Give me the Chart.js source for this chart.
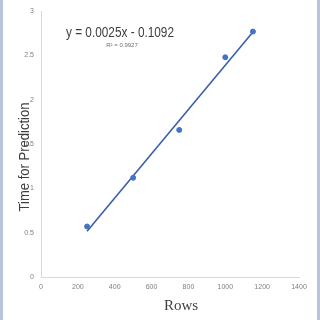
<!DOCTYPE html>
<html>
<head>
<meta charset="utf-8">
<script src="https://cdn.jsdelivr.net/npm/chart.js@4"></script>
<style>
  html, body { margin: 0; padding: 0; background: #fff; }
  #wrap { position: relative; width: 320px; height: 320px; }
  #chart { position: absolute; left: 0; top: 0; }
  .edge { position: absolute; top: 0; width: 3px; height: 320px; background: #b9c3d9; }
</style>
</head>
<body>
<div id="wrap">
  <canvas id="chart" width="320" height="320"></canvas>
  <div class="edge" style="left:0"></div>
  <div class="edge" style="right:0"></div>
</div>
<script>
// measured rows vs time
const rows = [250, 500, 750, 1000, 1150];
const times = [0.57, 1.12, 1.66, 2.48, 2.77];

// linear trendline end points
const trendX = [250, 1150];
const trendY = [0.516, 2.766];

const xTicks = [0, 200, 400, 600, 800, 1000, 1200, 1400];
const yTicks = [0, 0.5, 1, 1.5, 2, 2.5, 3];

const equation = "y = 0.0025x - 0.1092";
const rSquared = "R\u00b2 = 0.9927";
const xTitle = "Rows";
const yTitle = "Time for Prediction";

const chartCanvas = document.getElementById("chart");

// text labels drawn on top (equation, R², axis titles)
const labelsPlugin = {
    id: "labels",
    afterDraw(chart) {
        const ctx = chart.ctx;
        ctx.save();
        ctx.fillStyle = "#404040";
        ctx.textAlign = "center";
        ctx.textBaseline = "alphabetic";
        ctx.font = "14px 'Liberation Sans', sans-serif";
        ctx.fillText(equation, 120, 37, 108);

        ctx.fillStyle = "#707070";
        ctx.font = "6px 'Liberation Sans', sans-serif";
        ctx.fillText(rSquared, 122, 47);

        ctx.fillStyle = "#404040";
        ctx.font = "15px 'Liberation Serif', serif";
        ctx.fillText(xTitle, 181, 310);

        ctx.translate(29, 157);
        ctx.rotate(-Math.PI / 2);
        ctx.font = "14px 'Liberation Sans', sans-serif";
        ctx.fillText(yTitle, 0, 0, 109);
        ctx.restore();
    }
};

new Chart(chartCanvas, {
    type: "scatter",
    data: {
        datasets: [
            {
                label: "Time",
                data: rows.map((x, i) => ({ x: x, y: times[i] })),
                backgroundColor: "#4472c4",
                borderColor: "#4472c4",
                pointRadius: 2.5,
                order: 1
            },
            {
                label: "Trend",
                type: "line",
                data: trendX.map((x, i) => ({ x: x, y: trendY[i] })),
                borderColor: "#3b5fa8",
                borderWidth: 1.6,
                pointRadius: 0,
                fill: false,
                order: 2
            }
        ]
    },
    options: {
        responsive: false,
        animation: false,
        layout: { padding: { top: 11, right: 21, left: 0, bottom: 0 } },
        plugins: {
            legend: { display: false },
            tooltip: { enabled: false }
        },
        scales: {
            x: {
                type: "linear",
                min: 0,
                max: 1400,
                afterFit: s => { s.height = 43; },
                afterBuildTicks: s => { s.ticks = xTicks.map(v => ({ value: v })); },
                grid: { display: false, drawTicks: false },
                border: { display: true, color: "#d9d9d9", width: 1 },
                ticks: {
                    padding: 6,
                    color: "#808080",
                    font: { size: 7, family: "'Liberation Sans', sans-serif" },
                    callback: v => String(v)
                }
            },
            y: {
                min: 0,
                max: 3,
                afterFit: s => { s.width = 41; },
                afterBuildTicks: s => { s.ticks = yTicks.map(v => ({ value: v })); },
                grid: { display: false, drawTicks: false },
                border: { display: true, color: "#d9d9d9", width: 1 },
                ticks: {
                    padding: 7,
                    color: "#808080",
                    font: { size: 7, family: "'Liberation Sans', sans-serif" },
                    callback: v => String(v)
                }
            }
        }
    },
    plugins: [labelsPlugin]
});
</script>
</body>
</html>
